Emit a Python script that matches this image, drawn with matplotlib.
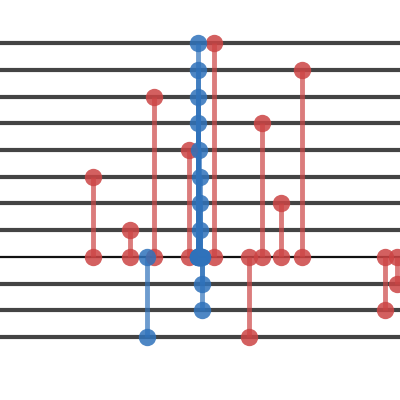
import matplotlib

matplotlib.use("Agg")
import matplotlib.pyplot as plt

# level lines
levels = [8, 7, 6, 5, 4, 3, 2, 1, -1, -2, -3]

# stems: x position, value, colour key
red_x = [93, 130, 154, 189, 214, 249, 262, 281, 302, 385, 397]
red_y = [3, 1, 6, 4, 8, -3, 5, 2, 7, -2, -1]
blue_x = [147, 198, 198, 198, 198, 199, 200, 200, 200, 199, 202, 202]
blue_y = [-3, 8, 7, 6, 5, 4, 3, 2, 1, 0.05, -1, -2]

RED = "#cc4444"
BLUE = "#2f72bb"

fig = plt.figure(figsize=(4, 4), dpi=100)
ax = fig.add_axes([0, 0, 1, 1])

for lv in levels:
    ax.axhline(lv, color="#444444", linewidth=3, zorder=1)
ax.axhline(0, color="#111111", linewidth=1.6, zorder=1)


def draw(xs, ys, color):
    for x, y in zip(xs, ys):
        ax.plot([x, x], [0, y], color=color, linewidth=3.5, alpha=0.7,
                solid_capstyle="butt", zorder=2)
        ax.plot([x, x], [0, y], "o", color=color, markersize=12.5,
                alpha=0.85, markeredgewidth=0, zorder=3)


draw(red_x, red_y, RED)
draw(blue_x, blue_y, BLUE)

ax.set_xlim(0, 400)
ax.set_ylim(-5.35, 9.61)
ax.axis("off")
fig.savefig("out.png", dpi=100)
